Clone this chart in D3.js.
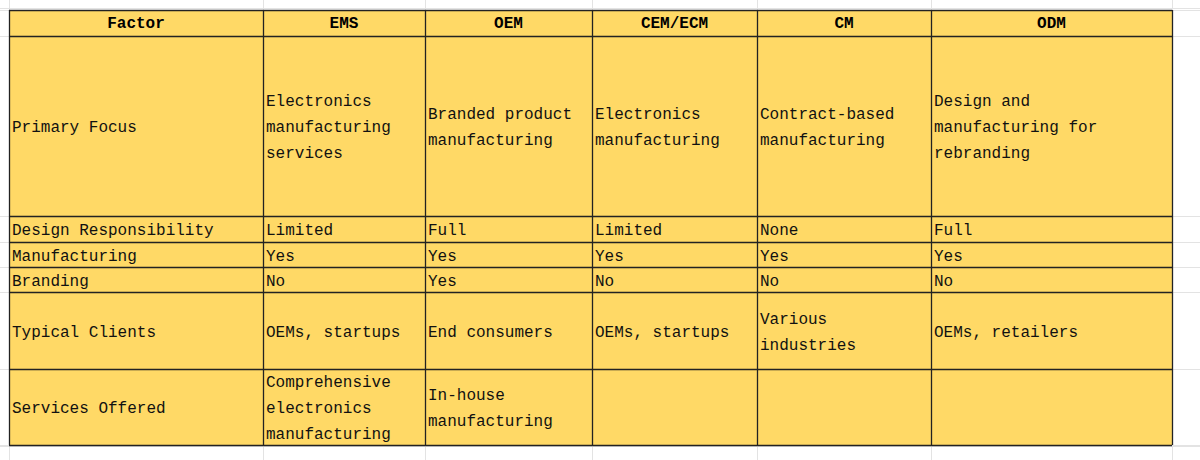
<!DOCTYPE html>
<html><head><meta charset="utf-8">
<script src="https://cdn.jsdelivr.net/npm/d3@7"></script>
<style>body{margin:0;background:#fff}</style></head>
<body><svg id="c" width="1200" height="460"></svg>
<script>
const headers = ["Factor","EMS","OEM","CEM/ECM","CM","ODM"];
const factors = ["Primary Focus","Design Responsibility","Manufacturing","Branding","Typical Clients","Services Offered"];
const EMS = [["Electronics","manufacturing","services"],["Limited"],["Yes"],["No"],["OEMs, startups"],["Comprehensive","electronics","manufacturing"]];
const OEM = [["Branded product","manufacturing"],["Full"],["Yes"],["Yes"],["End consumers"],["In-house","manufacturing"]];
const CEM = [["Electronics","manufacturing"],["Limited"],["Yes"],["No"],["OEMs, startups"],[]];
const CM  = [["Contract-based","manufacturing"],["None"],["Yes"],["No"],["Various","industries"],[]];
const ODM = [["Design and","manufacturing for","rebranding"],["Full"],["Yes"],["No"],["OEMs, retailers"],[]];

const colEdges = [9,263,425,592,757,931,1172];
const rowEdges = [10,36,216,242,267,292,369,445];
const svg = d3.select("#c");
const font = "'Liberation Mono','DejaVu Sans Mono',monospace";
// faint spreadsheet grid
const g0 = svg.append("g").attr("stroke","#e3e3e3").attr("stroke-width",1);
colEdges.forEach(x=>g0.append("line").attr("x1",x+0.5).attr("x2",x+0.5).attr("y1",0).attr("y2",460));
[8,446].concat(rowEdges).forEach(y=>g0.append("line").attr("x1",0).attr("x2",1200).attr("y1",y+0.5).attr("y2",y+0.5));
const cols = [factors.map(f=>[f]),EMS,OEM,CEM,CM,ODM];
svg.append("rect").attr("x",colEdges[0]).attr("y",rowEdges[0]).attr("width",colEdges[6]-colEdges[0]).attr("height",rowEdges[7]-rowEdges[0]).attr("fill","#FFD966");
const defs = svg.append("defs");
// header
headers.forEach((h,i)=>{
  svg.append("text").attr("x",(colEdges[i]+colEdges[i+1])/2).attr("y",(rowEdges[0]+rowEdges[1])/2+5)
   .attr("text-anchor","middle").attr("font-family",font).attr("font-size",16).attr("font-weight","bold").text(h);
});
cols.forEach((col,ci)=>{
  col.forEach((lines,ri)=>{
    const y0=rowEdges[ri+1], y1=rowEdges[ri+2];
    const id=`cl${ci}_${ri}`;
    defs.append("clipPath").attr("id",id).append("rect").attr("x",colEdges[ci]).attr("y",y0).attr("width",colEdges[ci+1]-colEdges[ci]).attr("height",y1-y0);
    const lh=26, mid=(y0+y1)/2, start=mid-(lines.length-1)*lh/2;
    const g=svg.append("g").attr("clip-path",`url(#${id})`);
    lines.forEach((t,k)=>g.append("text").attr("x",colEdges[ci]+3).attr("y",start+k*lh+6)
      .attr("font-family",font).attr("font-size",16).attr("fill","#111").text(t));
  });
});
const gl = svg.append("g").attr("stroke","#222").attr("stroke-width",1.3);
colEdges.forEach(x=>gl.append("line").attr("x1",x+0.5).attr("x2",x+0.5).attr("y1",rowEdges[0]).attr("y2",rowEdges[7]));
rowEdges.forEach(y=>gl.append("line").attr("x1",colEdges[0]).attr("x2",colEdges[6]).attr("y1",y+0.5).attr("y2",y+0.5));
</script></body></html>
